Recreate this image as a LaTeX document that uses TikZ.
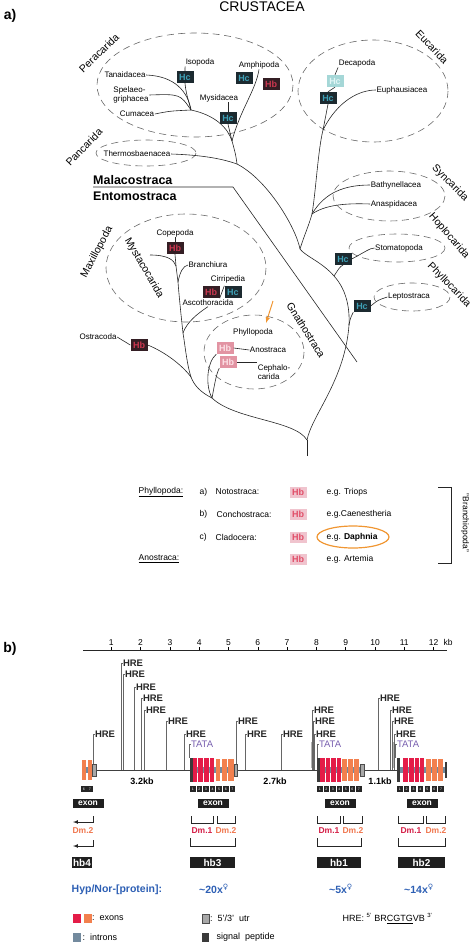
\documentclass[tikz,border=0pt]{standalone}
\usepackage{fontspec}
\setmainfont{Liberation Sans}
\newfontfamily\glyphfont{DejaVu Sans}
\usepackage{tikz}
\usetikzlibrary{positioning}

\definecolor{hbdarkbg}{RGB}{52,30,36}
\definecolor{hbred}{RGB}{205,55,80}
\definecolor{hcdarkbg}{RGB}{28,42,48}
\definecolor{hcteal}{RGB}{62,160,182}
\definecolor{hbpinkbg}{RGB}{226,148,163}
\definecolor{hbpinktext}{RGB}{252,225,230}
\definecolor{hcpalebg}{RGB}{165,215,215}
\definecolor{hcpaletext}{RGB}{225,245,245}
\definecolor{hbkeybg}{RGB}{240,196,206}
\definecolor{hbkeytext}{RGB}{225,78,104}
\definecolor{ringgray}{RGB}{105,105,105}
\definecolor{markorange}{RGB}{240,150,50}
\definecolor{exred}{RGB}{228,28,72}
\definecolor{exorange}{RGB}{242,128,78}
\definecolor{introngray}{RGB}{115,138,158}
\definecolor{utrgray}{RGB}{168,168,168}
\definecolor{sigdark}{RGB}{58,58,58}
\definecolor{protblue}{RGB}{45,95,180}
\definecolor{tatapurple}{RGB}{120,95,175}
\definecolor{dmred}{RGB}{212,30,70}
\definecolor{dmorange}{RGB}{240,120,80}

\tikzset{
  taxon/.style={font=\fontsize{8}{9.5}\selectfont, inner sep=0.5pt},
  clade/.style={font=\fontsize{10.5}{11}\selectfont, inner sep=0.5pt},
  bigclade/.style={font=\fontsize{12.5}{13}\selectfont\bfseries, inner sep=0pt},
  globin/.style={font=\fontsize{9}{9}\selectfont\bfseries, inner sep=0pt, minimum width=17pt, minimum height=12pt},
  hbdark/.style={globin, fill=hbdarkbg, text=hbred},
  hcdark/.style={globin, fill=hcdarkbg, text=hcteal},
  hblight/.style={globin, fill=hbpinkbg, text=hbpinktext},
  hclight/.style={globin, fill=hcpalebg, text=hcpaletext},
  hbkey/.style={globin, fill=hbkeybg, text=hbkeytext, minimum height=11pt},
  ring/.style={draw=ringgray, dash pattern=on 7pt off 4.5pt, line width=0.6pt},
  branch/.style={line width=0.6pt, draw=black!85},
  keytext/.style={font=\fontsize{8.5}{9}\selectfont, inner sep=0.5pt, anchor=west},
  panel/.style={font=\fontsize{14}{15}\selectfont\bfseries, inner sep=0pt},
  kbnum/.style={font=\fontsize{8.5}{9}\selectfont, inner sep=0.5pt},
  hre/.style={font=\fontsize{9.5}{10}\selectfont\bfseries, inner sep=0.3pt, anchor=west, text=black!85},
  tata/.style={font=\fontsize{9.5}{10}\selectfont, inner sep=0.3pt, anchor=west, text=tatapurple},
  hreline/.style={line width=0.6pt, draw=black!60},
  exnum/.style={fill=black!85, text=white, font=\fontsize{3.5}{4}\selectfont, minimum width=5.5pt, minimum height=6pt, inner sep=0pt},
  blackbox/.style={fill=black!88, text=white, inner sep=0pt},
  dmbracket/.style={line width=0.7pt, draw=black!85},
  dmone/.style={font=\fontsize{8.5}{9}\selectfont\bfseries, text=dmred, inner sep=0.5pt},
  dmtwo/.style={font=\fontsize{8.5}{9}\selectfont\bfseries, text=dmorange, inner sep=0.5pt},
  utrbox/.style={fill=utrgray, draw=black!70, line width=0.4pt},
  legendtext/.style={font=\fontsize{9}{9}\selectfont, inner sep=0.5pt, anchor=west}
}

\begin{document}
\begin{tikzpicture}[x=1pt,y=1pt,yscale=-1,xscale=1]
\useasboundingbox (0,0) rectangle (474,945);

% Text Node
\node[panel] (pa) at (10,16) {a)};
% Text Node
\node[font=\fontsize{14}{15}\selectfont, inner sep=0pt] (title) at (262,7) {CRUSTACEA};

%Shape: Ellipse (clade rings)
\draw[ring] (195,85) ellipse [x radius=98, y radius=52];
\draw[ring] (146,153) ellipse [x radius=50, y radius=13];
\draw[ring] (373,91) ellipse [x radius=75, y radius=51];
\draw[ring] (389,196) ellipse [x radius=56, y radius=25];
\draw[ring] (397,248) ellipse [x radius=48, y radius=14];
\draw[ring] (412,297) ellipse [x radius=38, y radius=14];
\draw[ring] (186,268) ellipse [x radius=80, y radius=54];
\draw[ring] (254,352) ellipse [x radius=50, y radius=37];

% Clade names
\node[clade, rotate=44] (peracarida) at (99,53) {Peracarida};
\node[clade, rotate=46] (pancarida) at (84,147) {Pancarida};
\node[clade, rotate=-46] (eucarida) at (432,47) {Eucarida};
\node[clade, rotate=-45] (syncarida) at (450,183) {Syncarida};
\node[clade, rotate=-49] (hoplocarida) at (449,236) {Hoplocarida};
\node[clade, rotate=-46] (phyllocarida) at (449,285) {Phyllocarida};
\node[clade, rotate=62] (maxillopoda) at (97,252) {Maxillopoda};
\node[clade, rotate=-60] (mystacocarida) at (144,268) {Mystacocarida};
\node[clade, rotate=-58] (gnathostraca) at (306,330) {Gnathostraca};
\node[bigclade, anchor=base west] (malaco) at (93,184.5) {Malacostraca};
\node[bigclade, anchor=base west] (ento) at (93,200) {Entomostraca};

% Taxon labels
\node[taxon] (tana) at (125,75) {Tanaidacea};
\node[taxon, align=left] (spel) at (131,95) {Spelaeo-\\griphacea};
\node[taxon] (cuma) at (137,114) {Cumacea};
\node[taxon] (iso) at (200,62) {Isopoda};
\node[taxon] (mysid) at (219,98) {Mysidacea};
\node[taxon] (amph) at (259,65) {Amphipoda};
\node[taxon] (thermo) at (137,154) {Thermosbaenacea};
\node[taxon] (decap) at (357,63) {Decapoda};
\node[taxon] (euph) at (402,90) {Euphausiacea};
\node[taxon] (bathy) at (396,185) {Bathynellacea};
\node[taxon] (anasp) at (394,204) {Anaspidacea};
\node[taxon] (stomato) at (399,248) {Stomatopoda};
\node[taxon] (lepto) at (409,297) {Leptostraca};
\node[taxon] (copep) at (175,233) {Copepoda};
\node[taxon] (bran) at (208,265) {Branchiura};
\node[taxon] (cirr) at (228,279) {Cirripedia};
\node[taxon] (asco) at (208,303) {Ascothoracida};
\node[taxon] (ostra) at (98,337) {Ostracoda};
\node[taxon] (phyllo) at (253,332) {Phyllopoda};
\node[taxon] (anos) at (268,350) {Anostraca};
\node[taxon, align=left] (cepha) at (274,372) {Cephalo-\\carida};

% Globin boxes
\node[hcdark] (hciso) at (185,77) {Hc};
\node[hcdark] (hcmys) at (228,118) {Hc};
\node[hcdark] (hcamph) at (244,78) {Hc};
\node[hbdark] (hbamph) at (271,84) {Hb};
\node[hclight] (hcdecL) at (335,81) {Hc};
\node[hcdark] (hcdec) at (328,98) {Hc};
\node[hcdark] (hchop) at (343,259) {Hc};
\node[hcdark] (hcphy) at (362,306) {Hc};
\node[hbdark] (hbcop) at (175,248) {Hb};
\node[hbdark] (hbcir) at (211,292) {Hb};
\node[hcdark] (hccir) at (233,292) {Hc};
\node[hbdark] (hbost) at (139,345) {Hb};
\node[hblight] (hbano) at (225,348) {Hb};
\node[hblight] (hbcep) at (228,362) {Hb};

% Branch points
\coordinate (root) at (307,456);
\coordinate (split) at (307,440);
\coordinate (jph) at (349,325);
\coordinate (jhop) at (334,276);
\coordinate (jmal) at (300,249);
\coordinate (jsyn) at (312,214);
\coordinate (jeu) at (323,130);
\coordinate (jther) at (237,164);
\coordinate (jmys) at (232,141);
\coordinate (jtan) at (191,110);
\coordinate (jleft) at (212,398);
\coordinate (jost) at (191,377);
\coordinate (jasc) at (183,333);
\coordinate (jbra) at (178,282);
\coordinate (jcop) at (176,266);
\coordinate (mystop) at (150,255);
\coordinate (divL) at (93,187);
\coordinate (divK) at (233,187);
\coordinate (divE) at (357,362);

% Malacostraca side
\draw[branch] (root) -- (split);
\draw[branch] (split) .. controls (312,415) and (345,380) .. (jph);
\draw[branch] (jph) .. controls (350,305) and (345,288) .. (jhop);
\draw[branch] (jhop) .. controls (322,262) and (305,256) .. (jmal);
\draw[branch] (jmal) .. controls (296,228) and (268,180) .. (jther);
\draw[branch] (jmal) .. controls (304,236) and (309,225) .. (jsyn);
\draw[branch] (jsyn) .. controls (316,190) and (318,150) .. (jeu);
\draw[branch] (jeu) .. controls (338,100) and (360,90) .. (euph.west);
\draw[branch] (jeu) -- (hcdec.south);
\draw[branch] (hcdec.north) -- (hcdecL.south);
\draw[branch] (hcdecL.north) -- (decap.south west);
\draw[branch] (jsyn) .. controls (325,192) and (345,185) .. (bathy.west);
\draw[branch] (jsyn) .. controls (325,205) and (345,203) .. (anasp.west);
\draw[branch] (jhop) .. controls (338,270) and (340,266) .. (hchop.south);
\draw[branch] (hchop.east) .. controls (365,252) and (370,248) .. (stomato.west);
\draw[branch] (jph) .. controls (350,318) and (352,315) .. (hcphy.south west);
\draw[branch] (hcphy.east) .. controls (378,300) .. (lepto.west);
\draw[branch] (jther) .. controls (220,158) and (200,155) .. (thermo.east);
\draw[branch] (jther) .. controls (236,155) and (234,148) .. (jmys);
\draw[branch] (jmys) -- (hcmys.south);
\draw[branch] (hcmys.north) -- (hcmys.north |- mysid.south);
\draw[branch] (jmys) .. controls (240,110) and (256,90) .. (amph.south);
\draw[branch] (cuma.east) .. controls (170,111) .. (jtan);
\draw[branch] (jtan) .. controls (215,115) and (228,128) .. (jmys);
\draw[branch] (tana.east) .. controls (175,76) and (188,92) .. (jtan);
\draw[branch] (spel.east) .. controls (180,94) .. (jtan);
\draw[branch] (hciso.south) .. controls (186,92) .. (jtan);
\draw[branch] (hciso.north) -- (iso.south west);

% Malacostraca / Entomostraca divide
\draw[branch] (divL) -- (divK) -- (divE);

% Entomostraca side
\draw[branch] (split) .. controls (295,420) and (235,420) .. (jleft);
\draw[branch] (jleft) .. controls (205,385) and (207,362) .. (hbano.south west);
\draw[branch] (jleft) .. controls (214,388) and (216,374) .. (hbcep.south west);
\draw[branch] (hbano.east) -- (anos.west);
\draw[branch] (hbcep.east) -- (hbcep.east -| cepha.west);
\draw[branch] (jleft) .. controls (200,392) and (194,385) .. (jost);
\draw[branch] (jost) .. controls (187,365) and (185,345) .. (jasc);
\draw[branch] (jasc) .. controls (181,315) and (179,295) .. (jbra);
\draw[branch] (jbra) -- (jcop);
\draw[branch] (jcop) -- (hbcop.south);
\draw[branch] (hbcop.north) -- (copep.south);
\draw[branch] (mystop) .. controls (168,255) and (174,260) .. (jcop);
\draw[branch] (jbra) .. controls (180,272) and (183,266) .. (bran.west);
\draw[branch] (jasc) .. controls (187,322) and (197,314) .. (asco.south);
\draw[branch] (hbcir.south east) -- (hccir.north west);
\draw[branch] (hbost.east) .. controls (165,352) and (182,365) .. (jost);
\draw[branch] (ostra.east) -- (hbost.west);

% marker arrow
\coordinate (arrtail) at (273,301);
\coordinate (arrtip) at (266,323);
\draw[markorange, line width=1pt, -latex] (arrtail) -- (arrtip);

% Key of panel a
\node[keytext] (kphyllo) at (138,492) {\underline{Phyllopoda:}};
\node[keytext] (ka) at (199,492) {a)};
\node[keytext] (kb) at (199,514) {b)};
\node[keytext] (kc) at (199,537) {c)};
\node[keytext] (knoto) at (215,492) {Notostraca:};
\node[keytext] (kconcho) at (216,514) {Conchostraca:};
\node[keytext] (kclado) at (215,537) {Cladocera:};
\node[keytext] (kanos) at (138,559) {\underline{Anostraca:}};
\node[hbkey] (khb1) at (298,492) {Hb};
\node[hbkey] (khb2) at (298,514) {Hb};
\node[hbkey] (khb3) at (298,537) {Hb};
\node[hbkey] (khb4) at (298,559) {Hb};
\node[keytext] (egtri) at (326,492) {e.g. Triops};
\node[keytext] (egcae) at (326,514) {e.g.Caenestheria};
\node[keytext] (egdaph) at (326,537) {e.g. \textbf{Daphnia}};
\node[keytext] (egart) at (326,559) {e.g. Artemia};
\draw[markorange, line width=1.2pt] (353,537) ellipse [x radius=36, y radius=11];
\coordinate (brA) at (438,487);
\coordinate (brB) at (451,487);
\coordinate (brC) at (451,563);
\coordinate (brD) at (438,563);
\draw[line width=0.8pt, black!85] (brA) -- (brB) -- (brC) -- (brD);
\node[keytext, anchor=center, rotate=-90] (branchio) at (465,523) {"Branchiopoda"};

% ---------------- panel b ----------------
\node[panel] (pb) at (10,649) {b)};

% ruler
\coordinate (rulL) at (83,650);
\coordinate (rulR) at (447,650);
\draw[line width=0.8pt, black!85] (rulL) -- (rulR);
\foreach \k in {1,...,12} {
  \node[kbnum] (kb\k) at ({82+29.3*\k},642.5) {\k};
  \draw[line width=0.5pt] ({82+29.3*\k},647) -- ({82+29.3*\k},650);
}
\node[kbnum] (kbunit) at (448,642.5) {kb};

% gene backbone
\coordinate (bbL) at (96,770);
\coordinate (bbR) at (447,770);
\draw[line width=0.8pt, black!75] (bbL) -- (bbR);
\fill[black!30] (310.5,742) rectangle (314,768);
\fill[black!30] (391.5,742) rectangle (395,768);

% HRE sites
\foreach \hx/\hy/\hb [count=\i] in {121/663/770, 123/674/770, 134/687/770, 141/698/770, 144/710/770, 166/721/770, 184/734/770, 93/734/764, 236/721/764, 245/734/770, 281/734/770, 312/710/770, 313/721/770, 314/734/770, 378/698/770, 390/710/770, 392/721/770, 394/734/770} {
  \node[hre] (hre\i) at (\hx+1.5,\hy) {HRE};
  \draw[hreline] (hre\i.west) -| (\hx,\hb);
}
\foreach \tx/\tn in {189/3, 317/1, 395/2} {
  \node[tata] (tata\tn) at (\tx+1.5,744) {TATA};
  \draw[hreline] (tata\tn.west) -| (\tx,758);
}

% hb4
\fill[introngray] (82,767) rectangle (93,773);
\foreach \a/\b in {82/86, 87.5/91.5} \fill[exorange] (\a,760) rectangle (\b,780);
\filldraw[utrbox] (92.5,764) rectangle (96,776);
% hb3
\fill[introngray] (190,767) rectangle (236,773);
\fill[sigdark] (190,758) rectangle (192.5,782);
\foreach \a/\b in {193/197, 198/203, 204/208.5, 209.5/214} \fill[exred] (\a,758) rectangle (\b,782);
\foreach \a/\b in {215.5/220, 221.5/226.5, 228/233.5} \fill[exorange] (\a,759) rectangle (\b,781);
\filldraw[utrbox] (234,764) rectangle (237.5,776);
% hb1
\fill[introngray] (317,767) rectangle (362,773);
\fill[sigdark] (317,758) rectangle (319.5,782);
\foreach \a/\b in {320/324.5, 325.5/330, 331/335.5, 336.5/340.5} \fill[exred] (\a,758) rectangle (\b,782);
\foreach \a/\b in {342/347, 348/353, 354/358.5} \fill[exorange] (\a,759) rectangle (\b,781);
\filldraw[utrbox] (360.5,764) rectangle (364,776);
% hb2
\fill[introngray] (397,767) rectangle (446,773);
\fill[sigdark] (397,758) rectangle (399.5,782);
\foreach \a/\b in {403/408, 409/413.5, 414.5/418.5, 419.5/423.5} \fill[exred] (\a,758) rectangle (\b,782);
\foreach \a/\b in {425.5/430.5, 431.5/436.5, 437.5/442.5} \fill[exorange] (\a,759) rectangle (\b,781);
\fill[sigdark] (444.5,762) rectangle (446.5,778);

% intergenic distances
\node[font=\fontsize{9}{9}\selectfont\bfseries, inner sep=0.5pt] (dist1) at (142,781) {3.2kb};
\node[font=\fontsize{9}{9}\selectfont\bfseries, inner sep=0.5pt] (dist2) at (275,781) {2.7kb};
\node[font=\fontsize{9}{9}\selectfont\bfseries, inner sep=0.5pt] (dist3) at (380,781) {1.1kb};

% exon numbers
\node[exnum] (num4-6) at (83.75,789) {6};
\node[exnum] (num4-7) at (89.75,789) {7};
\foreach \gx/\gp/\gn in {190/6.6/3, 317/6.5/1, 397/6.9/2} {
  \foreach \k in {1,...,7} {
    \node[exnum] (num\gn-\k) at ({\gx+2.75+(\k-1)*\gp},789) {\k};
  }
}

% exon boxes
\foreach \ex/\en in {88/4, 213/3, 340/1, 422/2}
  \node[blackbox, font=\fontsize{8.5}{9}\selectfont\bfseries, minimum width=31pt, minimum height=9.5pt] (exon\en) at (\ex,803.5) {exon};

% Dm domains
\foreach \a/\b in {191/213, 217/235, 317/340, 343/362, 398/423, 426/445}
  \draw[dmbracket] (\a,816) -- (\a,823) -- (\b,823) -- (\b,816);
\draw[dmbracket, -latex] (93,816) -- (93,822) -- (73,822);
\node[dmtwo] (dm4b) at (83,831) {Dm.2};
\node[dmone] (dm3a) at (202,831) {Dm.1};
\node[dmtwo] (dm3b) at (226,831) {Dm.2};
\node[dmone] (dm1a) at (329,831) {Dm.1};
\node[dmtwo] (dm1b) at (353,831) {Dm.2};
\node[dmone] (dm2a) at (411,831) {Dm.1};
\node[dmtwo] (dm2b) at (436,831) {Dm.2};

% gene spans
\foreach \a/\b in {190/235, 317/361, 398/445}
  \draw[dmbracket] (\a,838) -- (\a,846) -- (\b,846) -- (\b,838);
\draw[dmbracket, -latex] (93,840) -- (93,846) -- (73,846);

% gene names
\node[blackbox, font=\fontsize{10}{10}\selectfont\bfseries, minimum width=20pt, minimum height=11.5pt] (hb4) at (82,862.5) {hb4};
\node[blackbox, font=\fontsize{10}{10}\selectfont\bfseries, minimum width=45pt, minimum height=11.5pt] (hb3) at (212.5,862.5) {hb3};
\node[blackbox, font=\fontsize{10}{10}\selectfont\bfseries, minimum width=44pt, minimum height=11.5pt] (hb1) at (339,862.5) {hb1};
\node[blackbox, font=\fontsize{10}{10}\selectfont\bfseries, minimum width=47pt, minimum height=11.5pt] (hb2) at (421.5,862.5) {hb2};

% protein induction
\node[font=\fontsize{10.5}{11}\selectfont\bfseries, text=protblue, anchor=west, inner sep=0.5pt] (prot) at (71,890) {Hyp/Nor-[protein]:};
\node[font=\fontsize{10.5}{11}\selectfont\bfseries, text=protblue, inner sep=0.5pt] (prot3) at (214,889) {\textasciitilde20x\textsuperscript{\glyphfont ♀}};
\node[font=\fontsize{10.5}{11}\selectfont\bfseries, text=protblue, inner sep=0.5pt] (prot1) at (341,889) {\textasciitilde5x\textsuperscript{\glyphfont ♀}};
\node[font=\fontsize{10.5}{11}\selectfont\bfseries, text=protblue, inner sep=0.5pt] (prot2) at (419,889) {\textasciitilde14x\textsuperscript{\glyphfont ♀}};

% legend
\fill[exred] (73,914) rectangle (81,923);
\fill[exorange] (84,914) rectangle (91.5,923);
\node[legendtext] (lgexon) at (91.5,918.5) {:\ \ exons};
\fill[introngray] (73,933) rectangle (81,942);
\node[legendtext] (lgintron) at (82,937.5) {:\ \ introns};
\filldraw[utrbox] (202,914) rectangle (209,923);
\node[legendtext] (lgutr) at (209.5,918.5) {:\ \ 5'/3'\ \ utr};
\fill[sigdark] (202,933) rectangle (209,942);
\node[legendtext] (lgsig) at (216,937.5) {signal\ \ peptide};
\node[legendtext] (lghre) at (342,918.5) {HRE:\ \textsuperscript{5'} BR\underline{CGTG}VB \textsuperscript{3'}};

\end{tikzpicture}
\end{document}
